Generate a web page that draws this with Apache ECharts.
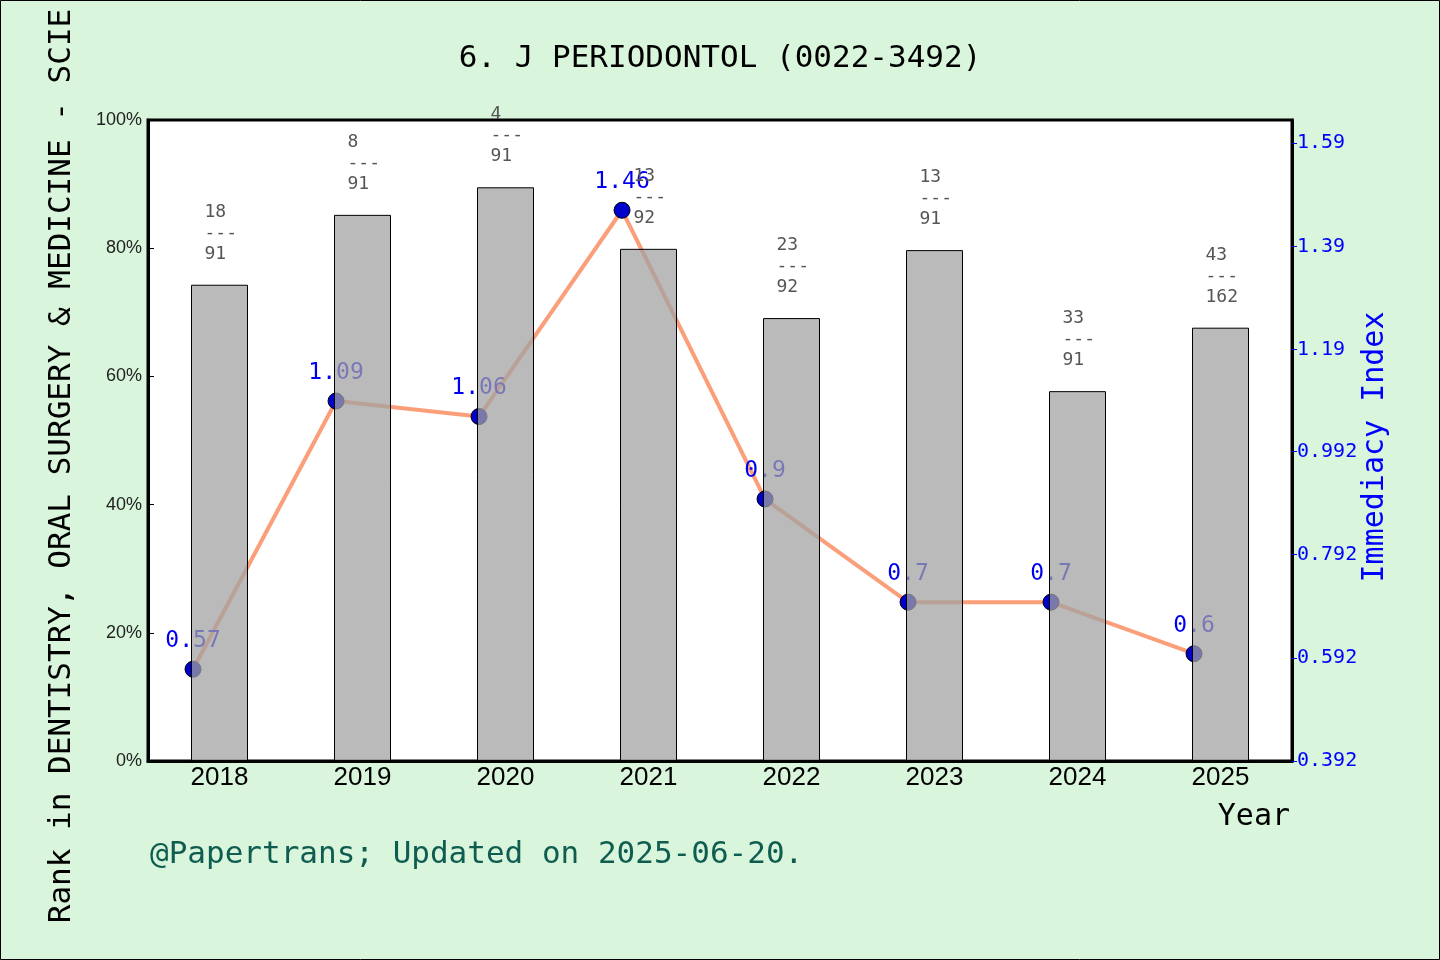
<!DOCTYPE html>
<html lang="en">
    <head>
        <meta charset="UTF-8" />
        <title>J PERIODONTOL</title>
        <script src="https://cdn.jsdelivr.net/npm/echarts@6/dist/echarts.min.js"></script>
        <style>
            body,
            html {
                margin: 0;
                padding: 0;
                width: 100%;
                height: 100%;
                overflow: hidden;
                background-color: #d9f5dc;
            }
            #main {
                width: 1440px;
                height: 960px;
            }
        </style>
    </head>
    <body>
        <div id="main"></div>
        <script>
            const years = ["2018", "2019", "2020", "2021", "2022", "2023", "2024", "2025"]
            const rankPercent = [74.3, 85.2, 89.5, 79.9, 69.1, 79.7, 57.7, 67.6]
            const rankPos = [18, 8, 4, 13, 23, 13, 33, 43]
            const rankTotal = [91, 91, 91, 92, 92, 91, 91, 162]
            const immediacy = [0.57, 1.09, 1.06, 1.46, 0.9, 0.7, 0.7, 0.6]
            const rightTicks = [0.392, 0.592, 0.792, 0.992, 1.19, 1.39, 1.59]
            const rightTickLabels = ["0.392", "0.592", "0.792", "0.992", "1.19", "1.39", "1.59"]

            const mono = "DejaVu Sans Mono"
            const sans = "Liberation Sans"

            const chart = echarts.init(document.getElementById("main"))

            const option = {
                backgroundColor: "#d9f5dc",
                animation: false,
                title: {
                    text: "6. J PERIODONTOL (0022-3492)",
                    left: "center",
                    top: 38,
                    textStyle: { fontFamily: mono, fontSize: 31, fontWeight: "normal", color: "#000" },
                },
                grid: {
                    left: 148,
                    right: 148,
                    top: 120,
                    bottom: 199,
                    show: true,
                    backgroundColor: "#fff",
                    borderColor: "#000",
                    borderWidth: 3,
                },
                xAxis: [
                    {
                        type: "category",
                        data: years,
                        axisLine: { onZero: false, lineStyle: { color: "#000", width: 3 } },
                        axisTick: { inside: true, length: 6, lineStyle: { color: "#000" } },
                        axisLabel: { fontFamily: sans, fontSize: 26, color: "#000", margin: 4 },
                    },
                    {
                        type: "value",
                        min: -0.5,
                        max: 7.5,
                        show: false,
                    },
                ],
                yAxis: [
                    {
                        type: "value",
                        min: 0,
                        max: 100,
                        interval: 20,
                        axisLine: { show: true, onZero: false, lineStyle: { color: "#000", width: 3 } },
                        axisTick: { show: true, inside: true, length: 6, lineStyle: { color: "#000" } },
                        axisLabel: { formatter: "{value}%", fontFamily: sans, fontSize: 18, color: "#222", margin: 6 },
                        splitLine: { show: false },
                    },
                    {
                        type: "value",
                        position: "right",
                        min: 0.392,
                        max: 1.635,
                        axisLine: { show: true, onZero: false, lineStyle: { color: "#000", width: 3 } },
                        axisTick: {
                            show: true,
                            length: 5,
                            customValues: rightTicks,
                            lineStyle: { color: "#0000ff", width: 1 },
                        },
                        axisLabel: {
                            customValues: rightTicks,
                            fontFamily: mono,
                            fontSize: 20,
                            color: "#0000ff",
                            margin: 5,
                            formatter: function (v) {
                                let best = 0
                                rightTicks.forEach((t, i) => {
                                    if (Math.abs(t - v) < Math.abs(rightTicks[best] - v)) best = i
                                })
                                return rightTickLabels[best]
                            },
                        },
                        splitLine: { show: false },
                    },
                ],
                series: [
                    {
                        type: "bar",
                        z: 3,
                        barWidth: 57,
                        data: rankPercent,
                        itemStyle: { color: "rgba(162,162,162,0.74)", borderColor: "#000", borderWidth: 1 },
                        label: {
                            show: true,
                            position: "top",
                            distance: 20,
                            align: "left",
                            offset: [-15, 0],
                            fontFamily: mono,
                            fontSize: 18,
                            lineHeight: 21,
                            color: "#555",
                            formatter: (p) => `${rankPos[p.dataIndex]}\n---\n${rankTotal[p.dataIndex]}`,
                        },
                    },
                    {
                        type: "line",
                        z: 2,
                        xAxisIndex: 1,
                        yAxisIndex: 1,
                        data: immediacy.map((v, i) => [i - 0.185, v]),
                        symbol: "circle",
                        symbolSize: 16,
                        lineStyle: { color: "#fa9f7a", width: 4 },
                        itemStyle: { color: "#0000cc", borderColor: "#000", borderWidth: 1 },
                        label: {
                            show: true,
                            position: "top",
                            distance: 8,
                            fontFamily: mono,
                            fontSize: 23,
                            color: "#0000ee",
                            formatter: (p) => String(p.value[1]),
                        },
                    },
                ],
                graphic: [
                    {
                        type: "rect",
                        shape: { x: 0.5, y: 0.5, width: 1439, height: 959 },
                        style: { fill: "none", stroke: "#000", lineWidth: 1 },
                    },
                    {
                        type: "text",
                        x: 62,
                        y: 466,
                        rotation: Math.PI / 2,
                        style: {
                            text: "Rank in DENTISTRY, ORAL SURGERY & MEDICINE - SCIE",
                            fontFamily: mono,
                            fontSize: 31,
                            fill: "#000",
                            textAlign: "center",
                            textVerticalAlign: "middle",
                        },
                    },
                    {
                        type: "text",
                        x: 1375,
                        y: 447,
                        rotation: Math.PI / 2,
                        style: {
                            text: "Immediacy Index",
                            fontFamily: mono,
                            fontSize: 30,
                            fill: "#0000ff",
                            textAlign: "center",
                            textVerticalAlign: "middle",
                        },
                    },
                    {
                        type: "text",
                        x: 1290,
                        y: 817,
                        style: {
                            text: "Year",
                            fontFamily: mono,
                            fontSize: 30,
                            fill: "#000",
                            textAlign: "right",
                            textVerticalAlign: "middle",
                        },
                    },
                    {
                        type: "text",
                        x: 150,
                        y: 855,
                        style: {
                            text: "@Papertrans; Updated on 2025-06-20.",
                            fontFamily: mono,
                            fontSize: 31,
                            fill: "#0f5c50",
                            textAlign: "left",
                            textVerticalAlign: "middle",
                        },
                    },
                ],
            }

            chart.setOption(option)
        </script>
    </body>
</html>
